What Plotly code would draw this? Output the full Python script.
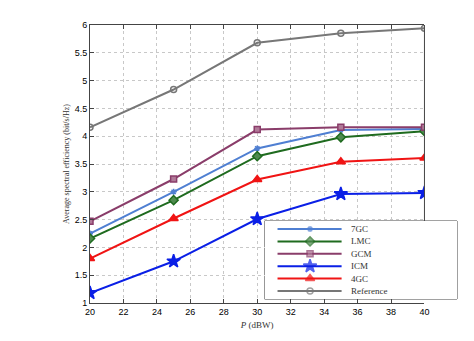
import plotly.graph_objects as go

power = [20, 25, 30, 35, 40]
s_7gc = [2.25, 3.00, 3.78, 4.11, 4.13]
s_lmc = [2.16, 2.85, 3.64, 3.98, 4.09]
s_gcm = [2.47, 3.23, 4.12, 4.16, 4.16]
s_icm = [1.18, 1.75, 2.51, 2.96, 2.98]
s_4gc = [1.80, 2.52, 3.22, 3.54, 3.61]
s_ref = [4.16, 4.84, 5.68, 5.85, 5.94]

names = ["7GC", "LMC", "GCM", "ICM", "4GC", "Reference"]
series = [s_7gc, s_lmc, s_gcm, s_icm, s_4gc, s_ref]
colors = ["#4f7fd2", "#1f6b1f", "#8a3d6a", "#0a1fe6", "#f01414", "#777777"]
fills = ["#4f7fd2", "#4f8a4f", "#b07a98", "#0a1fe6", "#f01414", "#777777"]
symbols = ["asterisk-open", "diamond", "square", "star", "triangle-up", "circle-open"]
sizes = [5, 7, 6, 10, 8, 6]

fig = go.Figure()
for n, s, c, f, sym, sz in zip(names, series, colors, fills, symbols, sizes):
    fig.add_trace(go.Scatter(
        x=power, y=s, name=n, mode="lines+markers", showlegend=False,
        line=dict(color=c, width=2),
        marker=dict(symbol=sym, size=sz, color=f,
                    line=dict(color=c, width=1.5)),
        xaxis="x", yaxis="y",
    ))

# ---- compact legend drawn in its own invisible axes (layout positions only)
row_top = 0.897
row_step = 0.1588
for i, (n, c, f, sym, sz) in enumerate(zip(names, colors, fills, symbols, sizes)):
    ry = row_top - i * row_step
    fig.add_trace(go.Scatter(
        x=[0.067, 0.236, 0.40], y=[ry, ry, ry], mode="lines+markers",
        showlegend=False, hoverinfo="skip",
        line=dict(color=c, width=2),
        marker=dict(symbol=sym, size=[0, sz, 0], color=f,
                    line=dict(color=c, width=1.5)),
        xaxis="x2", yaxis="y2",
    ))
    fig.add_annotation(
        x=0.44, y=ry, xref="x2", yref="y2", text=n, showarrow=False,
        xanchor="left", yanchor="middle",
        font=dict(family="Liberation Serif, Times New Roman", size=9, color="#333"),
    )

fig.add_shape(type="rect", xref="x2 domain", yref="y2 domain",
              x0=0, x1=1, y0=0, y1=1, fillcolor="white",
              line=dict(color="#444", width=1), layer="below")

W, H = 474, 341
ml, mr, mt, mb = 90, 10, 25, 38
pw = W - ml - mr
ph = H - mt - mb
leg_bottom = (mt + ph - 299) / ph
leg_top = (mt + ph - 221) / ph

# right frame line, stopping at the legend's top edge
fig.add_shape(type="line", xref="x domain", yref="y domain",
              x0=1, x1=1, y0=leg_top, y1=1,
              line=dict(color="#444", width=1), layer="above")

axis_common = dict(
    showline=True, linecolor="#444", linewidth=1,
    ticks="inside", ticklen=4, tickcolor="#444",
    showgrid=True, gridcolor="#c8c8c8", griddash="dot", gridwidth=1,
    zeroline=False,
    tickfont=dict(family="Liberation Sans, Arial", size=9, color="black"),
)

fig.update_layout(
    width=W, height=H,
    margin=dict(l=ml, r=mr, t=mt, b=mb),
    plot_bgcolor="white", paper_bgcolor="white",
    showlegend=False,
    xaxis=dict(range=[20, 40], dtick=2, tick0=20, domain=[0, 339 / pw], anchor="y",
               mirror="ticks",
               title=dict(text="<i>P</i> (dBW)", standoff=5,
                          font=dict(family="Liberation Serif, Times New Roman", size=9, color="#333")),
               **axis_common),
    yaxis=dict(range=[1, 6], dtick=0.5, tick0=1, domain=[0, 1], anchor="x",
               mirror=False,
               title=dict(text="Average spectral efficiency (bit/s/Hz)", standoff=3,
                          font=dict(family="Liberation Serif, Times New Roman", size=8, color="#333")),
               **axis_common),
    xaxis2=dict(domain=[(267 - ml) / pw, (462 - ml) / pw], range=[0, 1],
                visible=False, anchor="y2", fixedrange=True),
    yaxis2=dict(domain=[leg_bottom, leg_top], range=[0, 1],
                visible=False, anchor="x2", fixedrange=True),
)

fig.write_html("out.html")
